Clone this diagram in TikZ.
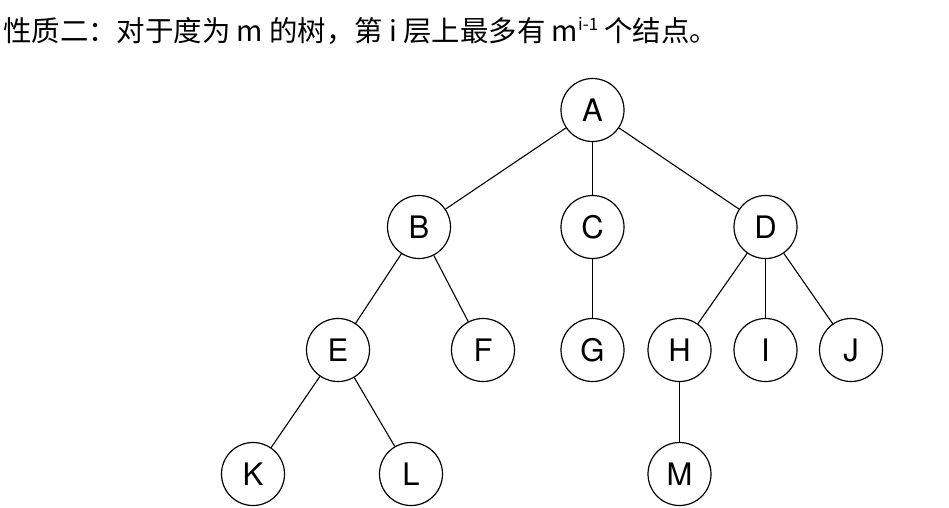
\documentclass[tikz,border=0pt]{standalone}
\usepackage{fontspec}
\setmainfont{Noto Sans CJK SC}
\newfontfamily\cjk{Noto Sans CJK SC}
\newfontfamily\lettfont{TeX Gyre Heros}
\begin{document}
\begin{tikzpicture}[x=1pt,y=-1pt,
  tnode/.style={circle,draw=black,line width=1.2pt,minimum size=63pt,inner sep=0pt,font=\lettfont\fontsize{31}{34}\selectfont},
  tedge/.style={line width=1.1pt}]
\useasboundingbox (0,0) rectangle (949,507);
\node[anchor=west,inner sep=0pt,font=\cjk\fontsize{28.4}{32}\selectfont] (title) at (3,31) {性质二：对于度为 m 的树，第 i 层上最多有 m\raisebox{0.7ex}{\fontsize{17}{18}\selectfont i-1} 个结点。};
\node[tnode] (A) at (592.5,110) {A};
\node[tnode] (B) at (419,227) {B};
\node[tnode] (C) at (592.5,227) {C};
\node[tnode] (D) at (765.5,227) {D};
\node[tnode] (E) at (338,350) {E};
\node[tnode] (F) at (483,350) {F};
\node[tnode] (G) at (592.5,350) {G};
\node[tnode] (H) at (679.5,350) {H};
\node[tnode] (I) at (765.5,350) {I};
\node[tnode] (J) at (851,350) {J};
\node[tnode] (K) at (253,474) {K};
\node[tnode] (L) at (411,474) {L};
\node[tnode] (M) at (679.5,474) {M};
\draw[tedge] (A) -- (B);
\draw[tedge] (A) -- (C);
\draw[tedge] (A) -- (D);
\draw[tedge] (B) -- (E);
\draw[tedge] (B) -- (F);
\draw[tedge] (C) -- (G);
\draw[tedge] (D) -- (H);
\draw[tedge] (D) -- (I);
\draw[tedge] (D) -- (J);
\draw[tedge] (E) -- (K);
\draw[tedge] (E) -- (L);
\draw[tedge] (H) -- (M);
\end{tikzpicture}
\end{document}
